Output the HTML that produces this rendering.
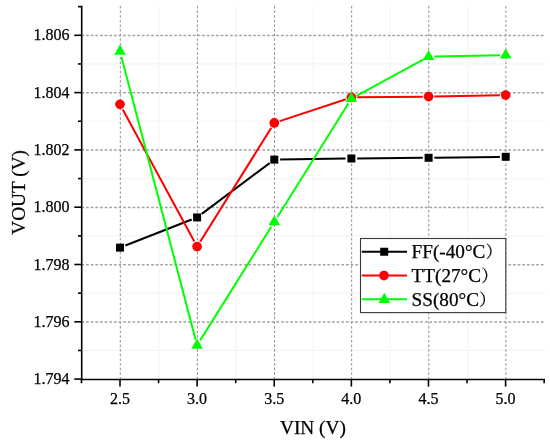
<!DOCTYPE html>
<html><head><meta charset="utf-8"><style>
html,body{margin:0;padding:0;background:#fff;width:550px;height:441px;overflow:hidden}
svg{display:block}
.mjh{stroke:#a2a2a2;stroke-width:1.5;stroke-dasharray:2.7 1.94;fill:none}
.mjv{stroke:#8e8e8e;stroke-width:1.0;stroke-dasharray:2.5 2.14;fill:none}
.mn{stroke:#f4f4f4;stroke-width:1.2;fill:none}
.ax{stroke:#000;stroke-width:1.6;fill:none}
.tk{font-family:"Liberation Serif",serif;font-size:16.0px;fill:#000;stroke:#000;stroke-width:0.25px}
.tt{font-family:"Liberation Serif",serif;font-size:19.3px;fill:#000;stroke:#000;stroke-width:0.25px}
.lg{font-family:"Liberation Serif","Noto Serif CJK SC",serif;}
.cj{font-family:"Liberation Serif","Noto Serif CJK SC",serif;font-size:16.4px}
.lg{font-size:19.2px;fill:#000;stroke:#000;stroke-width:0.25px}
</style></head><body>
<svg width="550" height="441" viewBox="0 0 550 441">
<rect width="550" height="441" fill="#fff"/>
<line x1="159.06" y1="6.65" x2="159.06" y2="379.55" class="mn"/>
<line x1="236.18" y1="6.65" x2="236.18" y2="379.55" class="mn"/>
<line x1="313.30" y1="6.65" x2="313.30" y2="379.55" class="mn"/>
<line x1="390.42" y1="6.65" x2="390.42" y2="379.55" class="mn"/>
<line x1="467.54" y1="6.65" x2="467.54" y2="379.55" class="mn"/>
<line x1="81.70" y1="350.45" x2="544.16" y2="350.45" class="mn"/>
<line x1="81.70" y1="293.15" x2="544.16" y2="293.15" class="mn"/>
<line x1="81.70" y1="235.85" x2="544.16" y2="235.85" class="mn"/>
<line x1="81.70" y1="178.55" x2="544.16" y2="178.55" class="mn"/>
<line x1="81.70" y1="121.25" x2="544.16" y2="121.25" class="mn"/>
<line x1="81.70" y1="63.95" x2="544.16" y2="63.95" class="mn"/>
<line x1="120.30" y1="5.85" x2="120.30" y2="379.55" class="mjv"/>
<line x1="197.42" y1="5.85" x2="197.42" y2="379.55" class="mjv"/>
<line x1="274.54" y1="5.85" x2="274.54" y2="379.55" class="mjv"/>
<line x1="351.66" y1="5.85" x2="351.66" y2="379.55" class="mjv"/>
<line x1="428.78" y1="5.85" x2="428.78" y2="379.55" class="mjv"/>
<line x1="505.90" y1="5.85" x2="505.90" y2="379.55" class="mjv"/>
<line x1="81.46" y1="322.00" x2="544.16" y2="322.00" class="mjh"/>
<line x1="81.46" y1="264.70" x2="544.16" y2="264.70" class="mjh"/>
<line x1="81.46" y1="207.40" x2="544.16" y2="207.40" class="mjh"/>
<line x1="81.46" y1="150.10" x2="544.16" y2="150.10" class="mjh"/>
<line x1="81.46" y1="92.80" x2="544.16" y2="92.80" class="mjh"/>
<line x1="81.46" y1="35.50" x2="544.16" y2="35.50" class="mjh"/>
<line x1="81.7" y1="5.85" x2="81.7" y2="380.35" class="ax"/>
<line x1="80.9" y1="379.55" x2="544.96" y2="379.55" class="ax"/>
<line x1="74.30" y1="379.10" x2="81.7" y2="379.10" class="ax"/>
<line x1="78.00" y1="350.45" x2="81.7" y2="350.45" class="ax"/>
<line x1="74.30" y1="321.80" x2="81.7" y2="321.80" class="ax"/>
<line x1="78.00" y1="293.15" x2="81.7" y2="293.15" class="ax"/>
<line x1="74.30" y1="264.50" x2="81.7" y2="264.50" class="ax"/>
<line x1="78.00" y1="235.85" x2="81.7" y2="235.85" class="ax"/>
<line x1="74.30" y1="207.20" x2="81.7" y2="207.20" class="ax"/>
<line x1="78.00" y1="178.55" x2="81.7" y2="178.55" class="ax"/>
<line x1="74.30" y1="149.90" x2="81.7" y2="149.90" class="ax"/>
<line x1="78.00" y1="121.25" x2="81.7" y2="121.25" class="ax"/>
<line x1="74.30" y1="92.60" x2="81.7" y2="92.60" class="ax"/>
<line x1="78.00" y1="63.95" x2="81.7" y2="63.95" class="ax"/>
<line x1="74.30" y1="35.30" x2="81.7" y2="35.30" class="ax"/>
<line x1="78.00" y1="6.65" x2="81.7" y2="6.65" class="ax"/>
<line x1="81.44" y1="379.55" x2="81.44" y2="383.25" class="ax"/>
<line x1="120.00" y1="379.55" x2="120.00" y2="386.55" class="ax"/>
<line x1="158.56" y1="379.55" x2="158.56" y2="383.25" class="ax"/>
<line x1="197.12" y1="379.55" x2="197.12" y2="386.55" class="ax"/>
<line x1="235.68" y1="379.55" x2="235.68" y2="383.25" class="ax"/>
<line x1="274.24" y1="379.55" x2="274.24" y2="386.55" class="ax"/>
<line x1="312.80" y1="379.55" x2="312.80" y2="383.25" class="ax"/>
<line x1="351.36" y1="379.55" x2="351.36" y2="386.55" class="ax"/>
<line x1="389.92" y1="379.55" x2="389.92" y2="383.25" class="ax"/>
<line x1="428.48" y1="379.55" x2="428.48" y2="386.55" class="ax"/>
<line x1="467.04" y1="379.55" x2="467.04" y2="383.25" class="ax"/>
<line x1="505.60" y1="379.55" x2="505.60" y2="386.55" class="ax"/>
<line x1="544.16" y1="379.55" x2="544.16" y2="383.25" class="ax"/>
<text x="69.6" y="384.20" class="tk" text-anchor="end">1.794</text>
<text x="69.6" y="326.90" class="tk" text-anchor="end">1.796</text>
<text x="69.6" y="269.60" class="tk" text-anchor="end">1.798</text>
<text x="69.6" y="212.30" class="tk" text-anchor="end">1.800</text>
<text x="69.6" y="155.00" class="tk" text-anchor="end">1.802</text>
<text x="69.6" y="97.70" class="tk" text-anchor="end">1.804</text>
<text x="69.6" y="40.40" class="tk" text-anchor="end">1.806</text>
<text x="120.00" y="404.2" class="tk" text-anchor="middle">2.5</text>
<text x="197.12" y="404.2" class="tk" text-anchor="middle">3.0</text>
<text x="274.24" y="404.2" class="tk" text-anchor="middle">3.5</text>
<text x="351.36" y="404.2" class="tk" text-anchor="middle">4.0</text>
<text x="428.48" y="404.2" class="tk" text-anchor="middle">4.5</text>
<text x="505.60" y="404.2" class="tk" text-anchor="middle">5.0</text>
<text x="312.9" y="434.0" class="tt" text-anchor="middle">VIN (V)</text>
<text transform="translate(25.2,192.4) rotate(-90)" class="tt" text-anchor="middle">VOUT (V)</text>
<line x1="125.40" y1="245.53" x2="191.70" y2="219.52" stroke="#000" stroke-width="2.0"/>
<line x1="201.74" y1="213.92" x2="269.66" y2="163.08" stroke="#000" stroke-width="2.0"/>
<line x1="280.10" y1="159.52" x2="345.60" y2="158.58" stroke="#000" stroke-width="2.0"/>
<line x1="357.20" y1="158.45" x2="422.80" y2="157.85" stroke="#000" stroke-width="2.0"/>
<line x1="434.40" y1="157.72" x2="499.90" y2="156.88" stroke="#000" stroke-width="2.0"/>
<rect x="116.00" y="243.65" width="8.0" height="8.0" fill="#000"/>
<rect x="193.10" y="213.40" width="8.0" height="8.0" fill="#000"/>
<rect x="270.30" y="155.60" width="8.0" height="8.0" fill="#000"/>
<rect x="347.40" y="154.50" width="8.0" height="8.0" fill="#000"/>
<rect x="424.60" y="153.80" width="8.0" height="8.0" fill="#000"/>
<rect x="501.70" y="152.80" width="8.0" height="8.0" fill="#000"/>
<line x1="122.76" y1="109.45" x2="194.34" y2="241.50" stroke="#f00" stroke-width="2.0"/>
<line x1="200.17" y1="241.68" x2="271.23" y2="127.87" stroke="#f00" stroke-width="2.0"/>
<line x1="279.81" y1="121.13" x2="345.89" y2="99.22" stroke="#f00" stroke-width="2.0"/>
<line x1="357.20" y1="97.34" x2="422.80" y2="96.66" stroke="#f00" stroke-width="2.0"/>
<line x1="434.40" y1="96.49" x2="499.90" y2="95.21" stroke="#f00" stroke-width="2.0"/>
<circle cx="120.00" cy="104.35" r="4.85" fill="#f00"/>
<circle cx="197.10" cy="246.60" r="4.85" fill="#f00"/>
<circle cx="274.30" cy="122.95" r="4.85" fill="#f00"/>
<circle cx="351.40" cy="97.40" r="4.85" fill="#f00"/>
<circle cx="428.60" cy="96.60" r="4.85" fill="#f00"/>
<circle cx="505.70" cy="95.10" r="4.85" fill="#f00"/>
<line x1="121.47" y1="56.91" x2="195.63" y2="339.69" stroke="#0f0" stroke-width="2.0"/>
<line x1="200.18" y1="340.38" x2="271.22" y2="226.82" stroke="#0f0" stroke-width="2.0"/>
<line x1="277.38" y1="216.98" x2="348.32" y2="103.52" stroke="#0f0" stroke-width="2.0"/>
<line x1="356.50" y1="95.83" x2="423.50" y2="59.47" stroke="#0f0" stroke-width="2.0"/>
<line x1="434.40" y1="56.58" x2="499.90" y2="55.22" stroke="#0f0" stroke-width="2.0"/>
<polygon points="120.00,44.60 125.80,54.65 114.20,54.65" fill="#0f0"/>
<polygon points="197.10,338.60 202.90,348.65 191.30,348.65" fill="#0f0"/>
<polygon points="274.30,215.20 280.10,225.25 268.50,225.25" fill="#0f0"/>
<polygon points="351.40,91.90 357.20,101.95 345.60,101.95" fill="#0f0"/>
<polygon points="428.60,50.00 434.40,60.05 422.80,60.05" fill="#0f0"/>
<polygon points="505.70,48.40 511.50,58.45 499.90,58.45" fill="#0f0"/>
<rect x="360.5" y="238.5" width="145.30" height="74.10" fill="#fff" stroke="#383838" stroke-width="1.1"/>
<line x1="361.8" y1="251.75" x2="407.0" y2="251.75" stroke="#000" stroke-width="2.0"/>
<rect x="380.20" y="247.75" width="8.0" height="8.0" fill="#000"/>
<text x="411.6" y="258.35" class="lg">FF(-40°C<tspan dx="0.3" dy="-1.2" class="cj">）</tspan></text>
<line x1="361.8" y1="275.55" x2="407.0" y2="275.55" stroke="#f00" stroke-width="2.0"/>
<circle cx="384.00" cy="275.55" r="4.85" fill="#f00"/>
<text x="411.6" y="282.15" class="lg">TT(27°C<tspan dx="0.3" dy="-1.2" class="cj">）</tspan></text>
<line x1="361.8" y1="299.35" x2="407.0" y2="299.35" stroke="#0f0" stroke-width="2.0"/>
<polygon points="384.30,292.85 390.10,302.90 378.50,302.90" fill="#0f0"/>
<text x="411.6" y="305.95" class="lg">SS(80°C<tspan dx="0.3" dy="-1.2" class="cj">）</tspan></text>
</svg>
</body></html>
